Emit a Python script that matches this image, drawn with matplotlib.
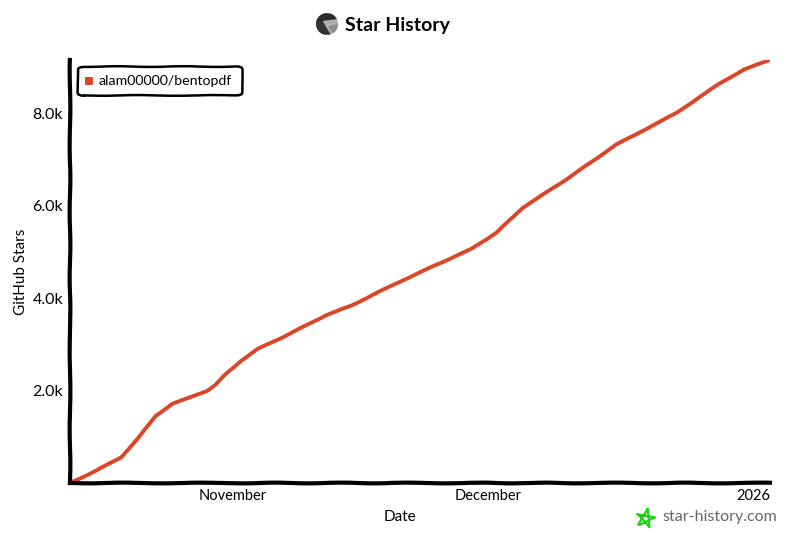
import numpy as np
import pandas as pd
import matplotlib
matplotlib.use("Agg")
import matplotlib.pyplot as plt
import matplotlib.ticker as ticker
from matplotlib.patches import Circle, Polygon, FancyBboxPatch

# -------------------------------------------------------
# Data
# -------------------------------------------------------
dates = ["2025-10-13", "2025-10-16", "2025-10-19", "2025-10-21", "2025-10-23",
         "2025-10-25", "2025-10-29", "2025-10-30", "2025-10-31", "2025-11-02",
         "2025-11-04", "2025-11-07", "2025-11-12", "2025-11-15", "2025-11-18",
         "2025-11-23", "2025-11-29", "2025-12-02", "2025-12-05", "2025-12-10",
         "2025-12-16", "2025-12-23", "2025-12-28", "2025-12-31", "2026-01-03"]
stars = [0, 260, 560, 970, 1450,
         1710, 1990, 2120, 2310, 2640,
         2900, 3160, 3630, 3840, 4120,
         4560, 5060, 5420, 5950, 6550,
         7320, 8000, 8630, 8950, 9150]
repo_name = "alam00000/bentopdf"
y_ticks = [2000, 4000, 6000, 8000]
x_tick_dates = ["2025-11-01", "2025-12-01", "2026-01-01"]
x_tick_labels = ["November", "December", "2026"]

RED = "#dd4528"
plt.rcParams["font.family"] = ["Lato", "DejaVu Sans"]
plt.rcParams["path.sketch"] = (0.35, 90, 3)

fig = plt.figure(figsize=(8, 5.33), dpi=100)
ax = fig.add_axes([70 / 800, 50 / 533, 700 / 800, 423 / 533])

x = pd.to_datetime(dates)
line, = ax.plot(x, stars, color=RED, lw=2.8, solid_capstyle="round", solid_joinstyle="round")
line.set_sketch_params(0.2, 60, 3)

ax.set_xlim(x[0], x[-1])
ax.set_ylim(0, 9150)
ax.set_xticks(pd.to_datetime(x_tick_dates))
ax.set_xticklabels(x_tick_labels)
ax.set_yticks(y_ticks)
ax.yaxis.set_major_formatter(ticker.FuncFormatter(lambda v, pos: f"{v / 1000:.1f}k"))
ax.tick_params(axis="x", length=0, labelsize=10.5, pad=4)
ax.tick_params(axis="y", length=0, labelsize=11.5, pad=5)

for side in ["top", "right"]:
    ax.spines[side].set_visible(False)
for side in ["left", "bottom"]:
    ax.spines[side].set_linewidth(3)
ax.patch.set_visible(False)

ax.set_xlabel("Date", fontsize=11)
ax.xaxis.set_label_coords((400 - 70) / 700, -34 / 423, transform=ax.transAxes)
ax.xaxis.label.set_verticalalignment("center")
ax.set_ylabel("GitHub Stars", fontsize=11)
ax.yaxis.set_label_coords(-49 / 700, 0.5)
ax.yaxis.label.set_verticalalignment("center")

# -------------------------------------------------------
# Title, legend, logos (pixel positions on the figure)
# -------------------------------------------------------
W, H = 800, 533


def px(xp, yp):
    return xp / W, 1 - yp / H


fig.text(*px(345, 25), "Star History", fontsize=14, fontweight="bold", va="center", ha="left")

# legend box
fig.add_artist(FancyBboxPatch(px(81, 94), 158 / W, 26 / H, transform=fig.transFigure,
                              boxstyle="round,pad=0.004,rounding_size=0.008",
                              fc="white", ec="black", lw=1.8, mutation_aspect=H / W))
leg_ax = fig.add_axes([85 / W, 1 - 85 / H, 8 / W, 8 / H], zorder=5)
leg_ax.axis("off")
leg_ax.add_patch(FancyBboxPatch((0.1, 0.1), 0.8, 0.8, boxstyle="round,pad=0.02,rounding_size=0.15",
                                fc=RED, ec=RED))
leg_ax.set_xlim(0, 1)
leg_ax.set_ylim(0, 1)
fig.text(*px(99, 81), repo_name, fontsize=10.2, va="center", ha="left", zorder=6)

# avatar
av = fig.add_axes([316 / W, 1 - 35 / H, 22 / W, 22 / H])
av.set_xlim(0, 1)
av.set_ylim(0, 1)
av.set_aspect("equal")
av.axis("off")
disk = Circle((0.5, 0.5), 0.5, fc="#b0b0b0", ec="none")
disk.set_sketch_params(None)
av.add_patch(disk)
dark_top = Polygon([[0, 1], [1, 1], [1, 0.72], [0, 0.62]], fc="#2a2a2a", ec="none")
av.add_patch(dark_top)
dark_top.set_clip_path(disk)
dark_low = Polygon([[0, 0.65], [0.3, 0.65], [0.7, 0], [0, 0]], fc="#333333", ec="none")
av.add_patch(dark_low)
dark_low.set_clip_path(disk)
pale = Polygon([[0.55, 0.4], [1, 0.5], [1, 0], [0.8, 0]], fc="#8a8a8a", ec="none")
av.add_patch(pale)
pale.set_clip_path(disk)

# star-history logo
star_ax = fig.add_axes([635 / W, 1 - 529 / H, 21 / W, 21 / H])
star_ax.set_xlim(-1.1, 1.1)
star_ax.set_ylim(-1.1, 1.1)
star_ax.axis("off")
angles = np.pi / 2 + np.arange(6) * 4 * np.pi / 5 - 0.2
star_ax.plot(np.cos(angles), np.sin(angles), color="#22d01c", lw=1.6)

fig.text(*px(662, 517), "star-history.com", fontsize=11.5, color="#666666", va="center", ha="left")

fig.savefig("out.png", dpi=100)
